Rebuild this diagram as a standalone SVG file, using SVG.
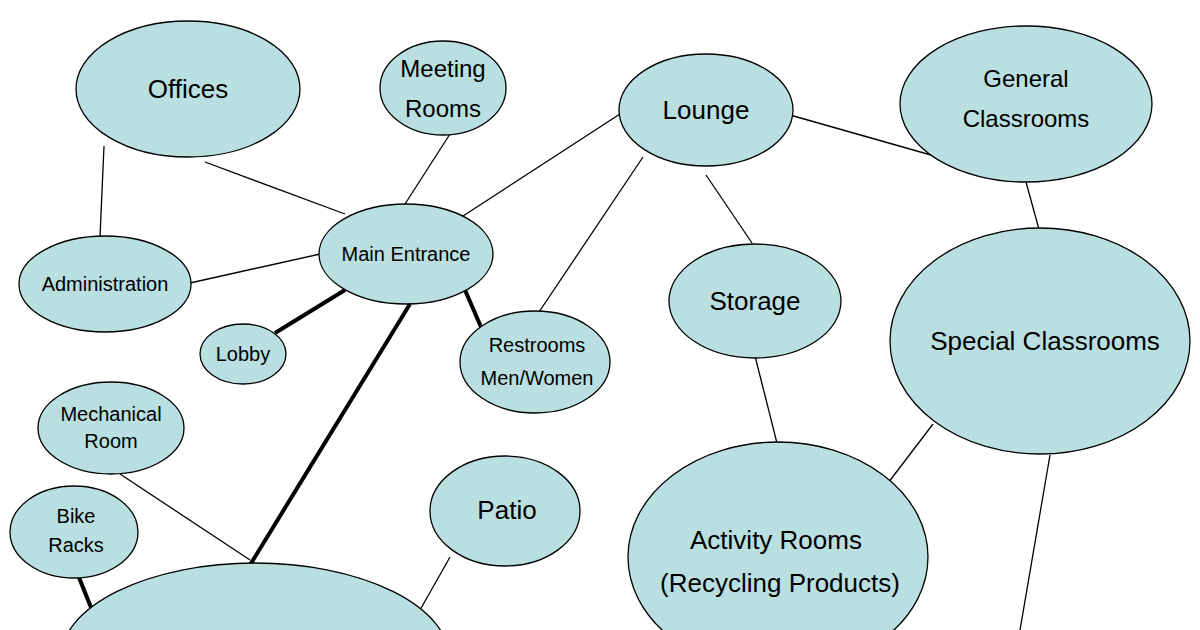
<svg xmlns="http://www.w3.org/2000/svg" width="1200" height="630" viewBox="0 0 1200 630">
<style>
ellipse{fill:#b9dfe0;stroke:#000;stroke-width:1.3}
text{font-family:"Liberation Sans",Arial,sans-serif;fill:#000;text-anchor:middle}
.l{font-size:26px}.s{font-size:20px}
line{stroke:#000;stroke-width:1.3}
.t{stroke-width:4}
</style>
<rect width="1200" height="630" fill="#fff"/>
<g id="connectors">
<line x1="104" y1="146" x2="100" y2="237"/>
<line x1="205" y1="162" x2="345" y2="214"/>
<line x1="450" y1="134" x2="405" y2="204"/>
<line x1="620" y1="114" x2="463" y2="216"/>
<line x1="790" y1="115" x2="938" y2="157"/>
<line x1="643" y1="157" x2="535" y2="318"/>
<line x1="706" y1="175" x2="752" y2="243"/>
<line x1="1026" y1="182" x2="1040" y2="233"/>
<line x1="190" y1="283" x2="320" y2="254"/>
<line class="t" x1="345" y1="290" x2="275" y2="333"/>
<line class="t" x1="465" y1="290" x2="481" y2="327"/>
<line class="t" x1="410" y1="304" x2="250" y2="565"/>
<line x1="755" y1="356" x2="780" y2="455"/>
<line x1="933" y1="424" x2="885" y2="487"/>
<line x1="1050" y1="455" x2="1020" y2="630"/>
<line x1="120" y1="474" x2="250" y2="560"/>
<line class="t" x1="78" y1="575" x2="92" y2="610"/>
<line x1="450" y1="557" x2="420" y2="610"/>
</g>
<g id="offices"><ellipse cx="188" cy="89" rx="112" ry="68"/><text class="l" x="188" y="98">Offices</text></g>
<g id="meeting"><ellipse cx="443" cy="88" rx="63" ry="47"/><text class="s" x="443" y="77" style="font-size:24px">Meeting</text><text x="443" y="117" style="font-size:24px">Rooms</text></g>
<g id="lounge"><ellipse cx="706" cy="110" rx="87" ry="56"/><text class="l" x="706" y="119">Lounge</text></g>
<g id="general"><ellipse cx="1026" cy="104" rx="126" ry="78"/><text x="1026" y="87" style="font-size:24px">General</text><text x="1026" y="127" style="font-size:24px">Classrooms</text></g>
<g id="main"><ellipse cx="406" cy="254" rx="87" ry="50"/><text class="s" x="406" y="261">Main Entrance</text></g>
<g id="admin"><ellipse cx="105" cy="284" rx="86" ry="48"/><text class="s" x="105" y="291">Administration</text></g>
<g id="lobby"><ellipse cx="243" cy="354" rx="43" ry="30"/><text class="s" x="243" y="361">Lobby</text></g>
<g id="restrooms"><ellipse cx="535" cy="362" rx="75" ry="51"/><text class="s" x="537" y="352">Restrooms</text><text class="s" x="537" y="385">Men/Women</text></g>
<g id="storage"><ellipse cx="755" cy="301" rx="86" ry="57"/><text class="l" x="755" y="310">Storage</text></g>
<g id="special"><ellipse cx="1040" cy="341" rx="150" ry="113"/><text class="l" x="1045" y="350">Special Classrooms</text></g>
<g id="mechanical"><ellipse cx="111" cy="428" rx="73" ry="46"/><text class="s" x="111" y="421">Mechanical</text><text class="s" x="111" y="448">Room</text></g>
<g id="bike"><ellipse cx="74" cy="532" rx="64" ry="46"/><text class="s" x="76" y="523">Bike</text><text class="s" x="76" y="552">Racks</text></g>
<g id="patio"><ellipse cx="505" cy="511" rx="75" ry="55"/><text class="l" x="507" y="519">Patio</text></g>
<g id="activity"><ellipse cx="778" cy="557" rx="150" ry="115"/><text class="l" x="776" y="549">Activity Rooms</text><text class="l" x="780" y="592">(Recycling Products)</text></g>
<g id="bottom"><ellipse cx="255" cy="660" rx="195" ry="97"/></g>
</svg>
